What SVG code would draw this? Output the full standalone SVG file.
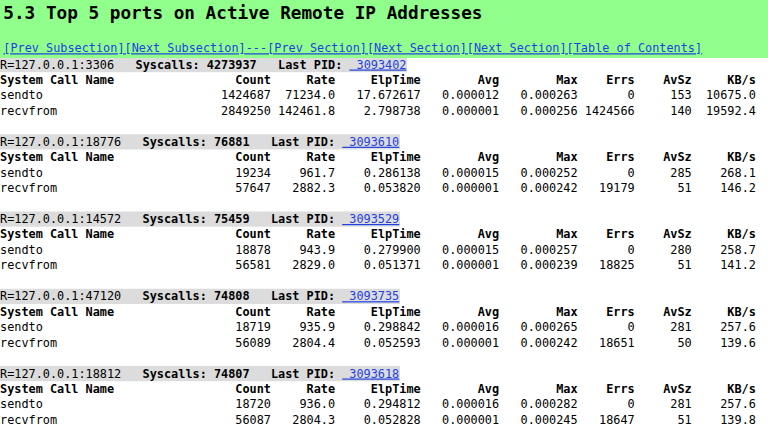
<svg xmlns="http://www.w3.org/2000/svg" width="768" height="434" viewBox="0 0 768 434">
<style>
text{font-family:"DejaVu Sans Mono","Liberation Mono",monospace;font-size:11.85px;fill:#000;white-space:pre}
.t{font-size:17.7px;font-weight:bold}
.b{font-weight:bold}
.lk{fill:#1f3fe0;text-decoration:underline}
.bar{fill:#dcdcdc}
.e{text-anchor:end}
</style>
<rect x="0" y="0" width="768" height="434" fill="#ffffff"/>
<g id="header">
<rect x="0" y="0" width="768" height="58" fill="#90ff8c"/>
<text class="t" x="3.3" y="19">5.3 Top 5 ports on Active Remote IP Addresses</text>
<text class="lk" x="3.3" y="52.3">[Prev Subsection][Next Subsection]---[Prev Section][Next Section][Next Section][Table of Contents]</text>
</g>
<g id="block1">
<rect class="bar" x="0" y="58" width="407" height="14.2"/>
<text x="0" y="68.5">R=127.0.0.1:3306</text>
<text class="b" x="135.5" y="68.5">Syscalls: 4273937</text>
<text class="b" x="278.1" y="68.5">Last PID:</text>
<text class="lk" x="349.4" y="68.5"> 3093402</text>
<g class="b"><text class="b" x="0" y="83.95">System Call Name</text><text class="b e" x="271" y="83.95">Count</text><text class="b e" x="335.1" y="83.95">Rate</text><text class="b e" x="420.7" y="83.95">ElpTime</text><text class="b e" x="499.1" y="83.95">Avg</text><text class="b e" x="577.6" y="83.95">Max</text><text class="b e" x="634.7" y="83.95">Errs</text><text class="b e" x="691.7" y="83.95">AvSz</text><text class="b e" x="755.9" y="83.95">KB/s</text></g>
<text x="0" y="99.4">sendto</text><text class="e" x="271" y="99.4">1424687</text><text class="e" x="335.1" y="99.4">71234.0</text><text class="e" x="420.7" y="99.4">17.672617</text><text class="e" x="499.1" y="99.4">0.000012</text><text class="e" x="577.6" y="99.4">0.000263</text><text class="e" x="634.7" y="99.4">0</text><text class="e" x="691.7" y="99.4">153</text><text class="e" x="755.9" y="99.4">10675.0</text>
<text x="0" y="114.85">recvfrom</text><text class="e" x="271" y="114.85">2849250</text><text class="e" x="335.1" y="114.85">142461.8</text><text class="e" x="420.7" y="114.85">2.798738</text><text class="e" x="499.1" y="114.85">0.000001</text><text class="e" x="577.6" y="114.85">0.000256</text><text class="e" x="634.7" y="114.85">1424566</text><text class="e" x="691.7" y="114.85">140</text><text class="e" x="755.9" y="114.85">19592.4</text>
</g>
<g id="block2">
<rect class="bar" x="0" y="134.25" width="400" height="15.2"/>
<text x="0" y="145.75">R=127.0.0.1:18776</text>
<text class="b" x="142.6" y="145.75">Syscalls: 76881</text>
<text class="b" x="270.9" y="145.75">Last PID:</text>
<text class="lk" x="342.2" y="145.75"> 3093610</text>
<text class="b" x="0" y="161.2">System Call Name</text><text class="b e" x="271" y="161.2">Count</text><text class="b e" x="335.1" y="161.2">Rate</text><text class="b e" x="420.7" y="161.2">ElpTime</text><text class="b e" x="499.1" y="161.2">Avg</text><text class="b e" x="577.6" y="161.2">Max</text><text class="b e" x="634.7" y="161.2">Errs</text><text class="b e" x="691.7" y="161.2">AvSz</text><text class="b e" x="755.9" y="161.2">KB/s</text>
<text x="0" y="176.65">sendto</text><text class="e" x="271" y="176.65">19234</text><text class="e" x="335.1" y="176.65">961.7</text><text class="e" x="420.7" y="176.65">0.286138</text><text class="e" x="499.1" y="176.65">0.000015</text><text class="e" x="577.6" y="176.65">0.000252</text><text class="e" x="634.7" y="176.65">0</text><text class="e" x="691.7" y="176.65">285</text><text class="e" x="755.9" y="176.65">268.1</text>
<text x="0" y="192.1">recvfrom</text><text class="e" x="271" y="192.1">57647</text><text class="e" x="335.1" y="192.1">2882.3</text><text class="e" x="420.7" y="192.1">0.053820</text><text class="e" x="499.1" y="192.1">0.000001</text><text class="e" x="577.6" y="192.1">0.000242</text><text class="e" x="634.7" y="192.1">19179</text><text class="e" x="691.7" y="192.1">51</text><text class="e" x="755.9" y="192.1">146.2</text>
</g>
<g id="block3">
<rect class="bar" x="0" y="211.5" width="400" height="15.2"/>
<text x="0" y="223">R=127.0.0.1:14572</text>
<text class="b" x="142.6" y="223">Syscalls: 75459</text>
<text class="b" x="270.9" y="223">Last PID:</text>
<text class="lk" x="342.2" y="223"> 3093529</text>
<text class="b" x="0" y="238.45">System Call Name</text><text class="b e" x="271" y="238.45">Count</text><text class="b e" x="335.1" y="238.45">Rate</text><text class="b e" x="420.7" y="238.45">ElpTime</text><text class="b e" x="499.1" y="238.45">Avg</text><text class="b e" x="577.6" y="238.45">Max</text><text class="b e" x="634.7" y="238.45">Errs</text><text class="b e" x="691.7" y="238.45">AvSz</text><text class="b e" x="755.9" y="238.45">KB/s</text>
<text x="0" y="253.9">sendto</text><text class="e" x="271" y="253.9">18878</text><text class="e" x="335.1" y="253.9">943.9</text><text class="e" x="420.7" y="253.9">0.279900</text><text class="e" x="499.1" y="253.9">0.000015</text><text class="e" x="577.6" y="253.9">0.000257</text><text class="e" x="634.7" y="253.9">0</text><text class="e" x="691.7" y="253.9">280</text><text class="e" x="755.9" y="253.9">258.7</text>
<text x="0" y="269.35">recvfrom</text><text class="e" x="271" y="269.35">56581</text><text class="e" x="335.1" y="269.35">2829.0</text><text class="e" x="420.7" y="269.35">0.051371</text><text class="e" x="499.1" y="269.35">0.000001</text><text class="e" x="577.6" y="269.35">0.000239</text><text class="e" x="634.7" y="269.35">18825</text><text class="e" x="691.7" y="269.35">51</text><text class="e" x="755.9" y="269.35">141.2</text>
</g>
<g id="block4">
<rect class="bar" x="0" y="288.75" width="400" height="15.2"/>
<text x="0" y="300.25">R=127.0.0.1:47120</text>
<text class="b" x="142.6" y="300.25">Syscalls: 74808</text>
<text class="b" x="270.9" y="300.25">Last PID:</text>
<text class="lk" x="342.2" y="300.25"> 3093735</text>
<text class="b" x="0" y="315.7">System Call Name</text><text class="b e" x="271" y="315.7">Count</text><text class="b e" x="335.1" y="315.7">Rate</text><text class="b e" x="420.7" y="315.7">ElpTime</text><text class="b e" x="499.1" y="315.7">Avg</text><text class="b e" x="577.6" y="315.7">Max</text><text class="b e" x="634.7" y="315.7">Errs</text><text class="b e" x="691.7" y="315.7">AvSz</text><text class="b e" x="755.9" y="315.7">KB/s</text>
<text x="0" y="331.15">sendto</text><text class="e" x="271" y="331.15">18719</text><text class="e" x="335.1" y="331.15">935.9</text><text class="e" x="420.7" y="331.15">0.298842</text><text class="e" x="499.1" y="331.15">0.000016</text><text class="e" x="577.6" y="331.15">0.000265</text><text class="e" x="634.7" y="331.15">0</text><text class="e" x="691.7" y="331.15">281</text><text class="e" x="755.9" y="331.15">257.6</text>
<text x="0" y="346.6">recvfrom</text><text class="e" x="271" y="346.6">56089</text><text class="e" x="335.1" y="346.6">2804.4</text><text class="e" x="420.7" y="346.6">0.052593</text><text class="e" x="499.1" y="346.6">0.000001</text><text class="e" x="577.6" y="346.6">0.000242</text><text class="e" x="634.7" y="346.6">18651</text><text class="e" x="691.7" y="346.6">50</text><text class="e" x="755.9" y="346.6">139.6</text>
</g>
<g id="block5">
<rect class="bar" x="0" y="366" width="400" height="15.2"/>
<text x="0" y="377.5">R=127.0.0.1:18812</text>
<text class="b" x="142.6" y="377.5">Syscalls: 74807</text>
<text class="b" x="270.9" y="377.5">Last PID:</text>
<text class="lk" x="342.2" y="377.5"> 3093618</text>
<text class="b" x="0" y="392.95">System Call Name</text><text class="b e" x="271" y="392.95">Count</text><text class="b e" x="335.1" y="392.95">Rate</text><text class="b e" x="420.7" y="392.95">ElpTime</text><text class="b e" x="499.1" y="392.95">Avg</text><text class="b e" x="577.6" y="392.95">Max</text><text class="b e" x="634.7" y="392.95">Errs</text><text class="b e" x="691.7" y="392.95">AvSz</text><text class="b e" x="755.9" y="392.95">KB/s</text>
<text x="0" y="408.4">sendto</text><text class="e" x="271" y="408.4">18720</text><text class="e" x="335.1" y="408.4">936.0</text><text class="e" x="420.7" y="408.4">0.294812</text><text class="e" x="499.1" y="408.4">0.000016</text><text class="e" x="577.6" y="408.4">0.000282</text><text class="e" x="634.7" y="408.4">0</text><text class="e" x="691.7" y="408.4">281</text><text class="e" x="755.9" y="408.4">257.6</text>
<text x="0" y="423.85">recvfrom</text><text class="e" x="271" y="423.85">56087</text><text class="e" x="335.1" y="423.85">2804.3</text><text class="e" x="420.7" y="423.85">0.052828</text><text class="e" x="499.1" y="423.85">0.000001</text><text class="e" x="577.6" y="423.85">0.000245</text><text class="e" x="634.7" y="423.85">18647</text><text class="e" x="691.7" y="423.85">51</text><text class="e" x="755.9" y="423.85">139.8</text>
</g>
</svg>
